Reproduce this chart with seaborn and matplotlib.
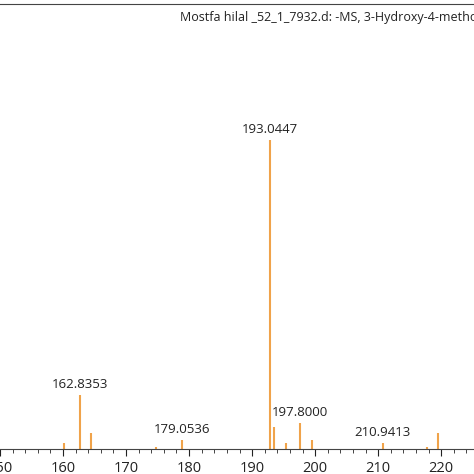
import matplotlib
matplotlib.use("Agg")
import matplotlib.pyplot as plt
import seaborn as sns
import pandas as pd

mz = [160.4, 162.8353, 164.6, 175.0, 179.0536, 193.0447, 193.6, 195.6, 197.8000, 199.7, 210.9413, 218.0, 219.7]
intensity = [1.9, 17.5, 5.2, 0.5, 2.9, 100.0, 7.1, 1.9, 8.4, 2.9, 1.9, 0.5, 5.2]
labeled = [162.8353, 179.0536, 193.0447, 197.8000, 210.9413]
title = "Mostfa hilal _52_1_7932.d: -MS, 3-Hydroxy-4-methoxycinnamic acid"

sns.set_style("white")
plt.rcParams['font.family'] = ['Open Sans', 'DejaVu Sans']
df = pd.DataFrame({"mz": mz, "intensity": intensity})

fig = plt.figure(figsize=(4.74, 4.74), dpi=100)
ax = fig.add_axes([0, 25/474, 1, 445/474])
color = "#f0a34a"
ax.vlines(df["mz"] - 0.2, 0, df["intensity"], color=color, lw=1.5)
for m, i in zip(mz, intensity):
    if m in labeled:
        ax.text(m - 0.2, i + 1.2, f"{m:.4f}", ha="center", va="bottom", fontsize=9.5, color="#222222")
ax.set_xlim(150, 225.2)
ax.set_ylim(0, 144.0)
ax.set_xticks(range(150, 230, 10))
ax.set_xticks(range(150, 226, 2), minor=True)
ax.tick_params(axis="x", which="major", length=5, labelsize=10.5, direction="out", bottom=True, colors="#222222")
ax.tick_params(axis="x", which="minor", length=3, direction="out", bottom=True)
ax.set_yticks([])
for s in ["left", "right"]:
    ax.spines[s].set_visible(False)
ax.spines["bottom"].set_color("#444444")
ax.spines["top"].set_color("#444444")
ax.text(180/474, 0.985, title, transform=ax.transAxes, ha="left", va="top", fontsize=9, color="#222222")
fig.savefig("out.png", dpi=100)
